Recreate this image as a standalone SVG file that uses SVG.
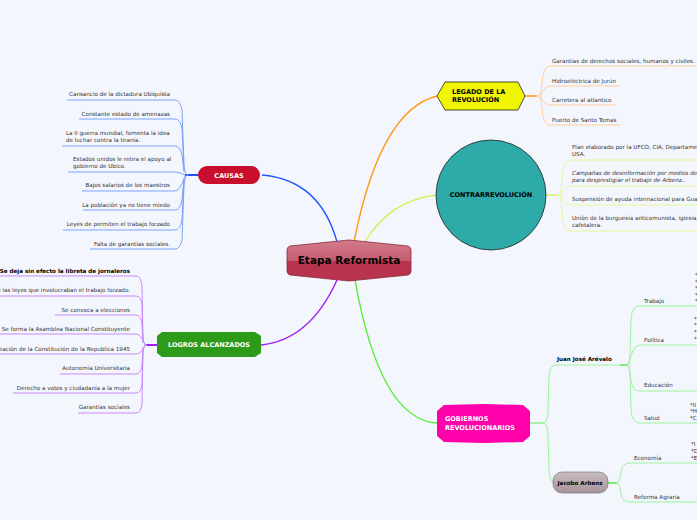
<svg xmlns="http://www.w3.org/2000/svg" width="697" height="520" viewBox="0 0 697 520">
<defs>
<linearGradient id="cg" x1="0" y1="0" x2="0" y2="1"><stop offset="0" stop-color="#d27c8c"/><stop offset="0.5" stop-color="#c65c70"/><stop offset="0.5" stop-color="#b8344e"/><stop offset="1" stop-color="#b8344e"/></linearGradient>
<linearGradient id="jg" x1="0" y1="0" x2="0" y2="1"><stop offset="0" stop-color="#c9bcc0"/><stop offset="1" stop-color="#a6959b"/></linearGradient>
</defs>
<style>
text{font-family:"DejaVu Sans",sans-serif;font-size:5.6px;fill:#333}
.r{text-anchor:end}
.b{font-weight:bold;fill:#000}
.w{font-weight:bold;fill:#fff;font-size:7px}
.k{font-weight:bold;fill:#000;font-size:7px}
.it{font-style:italic}
#connectors path{fill:none}
.bl{stroke:#7aa3ff;stroke-width:1}
.pu{stroke:#c98cf7;stroke-width:1}
.or{stroke:#ffcf9a;stroke-width:1}
.yg{stroke:#e8f79a;stroke-width:1}
.gr{stroke:#9cf59c;stroke-width:1}
</style>
<rect width="697" height="520" fill="#f3f6fd"/>
<g id="connectors">
<path d="M337 242 Q320 180 262 175" stroke="#2255ff" stroke-width="1.4"/>
<path d="M354 242 Q380 110 437 96" stroke="#ff9a1a" stroke-width="1.4"/>
<path d="M365 242 Q390 200 437 195" stroke="#d8f060" stroke-width="1.4"/>
<path d="M337 280 Q310 340 261 345" stroke="#a020f0" stroke-width="1.4"/>
<path d="M355 280 Q380 420 437 423" stroke="#55ee33" stroke-width="1.4"/>
<path d="M198 175 H185" stroke="#2255ff" stroke-width="2"/>
<g class="bl">
<path d="M67 100 H175 Q180 100 182 110 L184 165 Q185 175 188 175"/>
<path d="M79 119 H175 Q180 119 182 128 L184 170"/>
<path d="M62 146 H175 Q180 146 182 155 L184 172"/>
<path d="M68 172 H175 Q180 172 185 175"/>
<path d="M82 191 H175 Q180 191 185 176"/>
<path d="M83 210 H175 Q180 210 182 200 L184 178"/>
<path d="M63 230 H175 Q180 230 182 220 L184 180"/>
<path d="M90 249 H175 Q180 249 182 240 L184 185 Q185 175 188 175"/>
</g>
<path d="M157 345 H145" stroke="#a020f0" stroke-width="2"/>
<g class="pu">
<path d="M0 276 H136 Q141 276 142 286 L143 340 Q144 345 147 345"/>
<path d="M0 296 H136 Q141 296 142 305 L143 342"/>
<path d="M55 315 H136 Q141 315 142 324 L143 343"/>
<path d="M0 334 H136 Q141 334 145 345"/>
<path d="M0 354 H136 Q141 354 145 345"/>
<path d="M60 374 H136 Q141 374 142 365 L143 347"/>
<path d="M13 393 H136 Q141 393 142 384 L143 348"/>
<path d="M78 413 H136 Q141 413 142 404 L143 350 Q144 345 147 345"/>
</g>
<path d="M525 96 H538" stroke="#ff9a1a" stroke-width="1.5"/>
<g class="or">
<path d="M697 66 H550 Q545 66 543 75 L541 92 Q540 96 536 96"/>
<path d="M620 86 H550 Q545 86 540 96"/>
<path d="M615 105 H550 Q545 105 540 96"/>
<path d="M620 125 H550 Q545 125 543 116 L541 100 Q540 96 536 96"/>
</g>
<path d="M545 195 H558" stroke="#d8f060" stroke-width="1.5"/>
<g class="yg">
<path d="M697 160 H570 Q565 160 563 170 L561 190 Q560 195 556 195"/>
<path d="M697 186 H570 Q565 186 560 195"/>
<path d="M697 205 H570 Q565 205 560 195"/>
<path d="M697 231 H570 Q565 231 563 222 L561 200 Q560 195 556 195"/>
</g>
<path d="M530 423 H543" stroke="#88ee88" stroke-width="1.5"/>
<g class="gr">
<path d="M543 423 Q548 423 548 410 L549 375 Q550 365 556 365 H620"/>
<path d="M543 423 Q548 423 548 436 L549 470 Q550 483 555 483"/>
<path d="M620 365 H628" stroke="#66ee66" stroke-width="1.8"/>
<path d="M697 306 H640 Q632 306 631 318 L630 355 Q629 365 626 365"/>
<path d="M697 345 H640 Q632 345 629 365"/>
<path d="M697 391 H640 Q632 391 631 380 L629 365"/>
<path d="M697 423 H640 Q632 423 631 410 L630 375 Q629 365 626 365"/>
<path d="M608 483 H618" stroke="#66ee66" stroke-width="1.8"/>
<path d="M697 463 H630 Q622 463 621 472 L620 478 Q619 483 616 483"/>
<path d="M697 502 H630 Q622 502 621 494 L620 488 Q619 483 616 483"/>
</g>
</g>
<g id="center">
<path d="M349 240 L408 246 Q411 247 411 250 L411 271 Q411 274 408 275 L349 281 L290 275 Q287 274 287 271 L287 250 Q287 247 290 246 Z" fill="url(#cg)" stroke="#8a2a3c" stroke-width="0.8"/>
<text x="349" y="264" text-anchor="middle" style="font-size:10.5px;font-weight:bold;fill:#000">Etapa Reformista</text>
</g>
<g id="causas">
<rect x="198" y="166" width="62" height="18" rx="9" fill="#c8102e"/>
<text x="229" y="178" text-anchor="middle" class="w" style="font-size:6.5px">CAUSAS</text>
<text x="170" y="96" class="r">Cansancio de la dictadura Ubiquista</text>
<text x="170" y="116" class="r">Constante estado de amenazas</text>
<text x="66" y="135">La II guerra mundial, fomenta la idea</text>
<text x="66" y="142">de luchar contra la tiranía.</text>
<text x="73" y="161">Estados unidos le retira el apoyo al</text>
<text x="73" y="168">gobierno de Ubico.</text>
<text x="170" y="187" class="r">Bajos salarios de los maestros</text>
<text x="170" y="207" class="r">La población ya no tiene miedo</text>
<text x="170" y="226" class="r">Leyes de permiten el trabajo forzado</text>
<text x="170" y="246" class="r">Falta de garantías sociales.</text>
</g>
<g id="logros">
<path d="M162 332 H255 L261 336 V353 L255 357 H162 L157 353 V336 Z" fill="#2e9a1a"/>
<text x="209" y="347" text-anchor="middle" class="w" style="font-size:6.5px">LOGROS ALCANZADOS</text>
<text x="130" y="273" class="r b">Se deja sin efecto la libreta de jornaleros</text>
<text x="130" y="292" class="r">Abolición de las leyes que involucraban el trabajo forzado.</text>
<text x="130" y="312" class="r">Se convoca a elecciones</text>
<text x="130" y="331" class="r">Se forma la Asamblea Nacional Constituyente</text>
<text x="130" y="351" class="r">Creación de la Constitución de la Republica 1945</text>
<text x="130" y="370" class="r">Autonomía Universitaria</text>
<text x="130" y="390" class="r">Derecho a votos y ciudadanía a la mujer</text>
<text x="130" y="409" class="r">Garantías sociales</text>
</g>
<g id="legado">
<path d="M445 82 H518 L525 96 L518 110 H445 L437 96 Z" fill="#f0f500" stroke="#222" stroke-width="0.8"/>
<text x="452" y="94" class="k" style="font-size:6.5px">LEGADO DE LA</text>
<text x="452" y="102" class="k" style="font-size:6.5px">REVOLUCIÓN</text>
<text x="552" y="63">Garantías de derechos sociales, humanos y civiles.</text>
<text x="552" y="83">Hidroeléctrica de Jurún</text>
<text x="552" y="102">Carretera al atlantico</text>
<text x="552" y="122">Puerto de Santo Tomas</text>
</g>
<g id="contrarrevolucion">
<circle cx="491" cy="195" r="55" fill="#2eaaa8" stroke="#222" stroke-width="0.8"/>
<text x="491" y="197" text-anchor="middle" class="k" style="font-size:6.5px">CONTRARREVOLUCIÓN</text>
<text x="572" y="149">Plan elaborado por la UFCO, CIA, Departamento de Estado de</text>
<text x="572" y="156">USA.</text>
<text x="572" y="175" class="it">Campañas de desinformación por medios de comunicación</text>
<text x="572" y="182" class="it">para desprestigiar el trabajo de Arbenz..</text>
<text x="572" y="201">Suspensión de ayuda internacional para Guatemala</text>
<text x="572" y="220">Unión de la burguesía anticomunista, iglesia, y oligarquía</text>
<text x="572" y="227">cafetalera.</text>
</g>
<g id="gobiernos">
<path d="M444 405 L484 404 L523 405 L530 411 V436 L523 442 L484 443 L444 442 L437 436 V411 Z" fill="#ff00aa"/>
<text x="445" y="421" class="w" style="font-size:6.5px">GOBIERNOS</text>
<text x="445" y="430" class="w" style="font-size:6.5px">REVOLUCIONARIOS</text>
</g>
<g id="arevalo">
<text x="557" y="361" class="b">Juan José Arévalo</text>
<text x="644" y="303">Trabajo</text>
<text x="644" y="342">Política</text>
<text x="644" y="387">Educación</text>
<text x="644" y="420">Salud</text>
<text x="695" y="277">*</text><text x="695" y="284">*</text><text x="695" y="290">*</text><text x="695" y="297">*</text><text x="695" y="303">*</text>
<text x="694" y="321">*</text><text x="694" y="327">*</text><text x="694" y="334">*</text><text x="694" y="341">*</text>
<text x="690" y="407">*Il</text><text x="690" y="413">*H</text><text x="690" y="420">*C</text>
</g>
<g id="arbenz">
<rect x="553" y="472" width="55" height="21" rx="9" fill="url(#jg)" stroke="#666" stroke-width="0.6"/>
<text x="580" y="485" text-anchor="middle" class="b" style="font-size:5.6px">Jacobo Arbenz</text>
<text x="634" y="460">Economía</text>
<text x="634" y="499">Reforma Agraria</text>
<text x="691" y="446">*I</text><text x="691" y="453">*D</text><text x="691" y="460">*E</text>
</g>
</svg>
